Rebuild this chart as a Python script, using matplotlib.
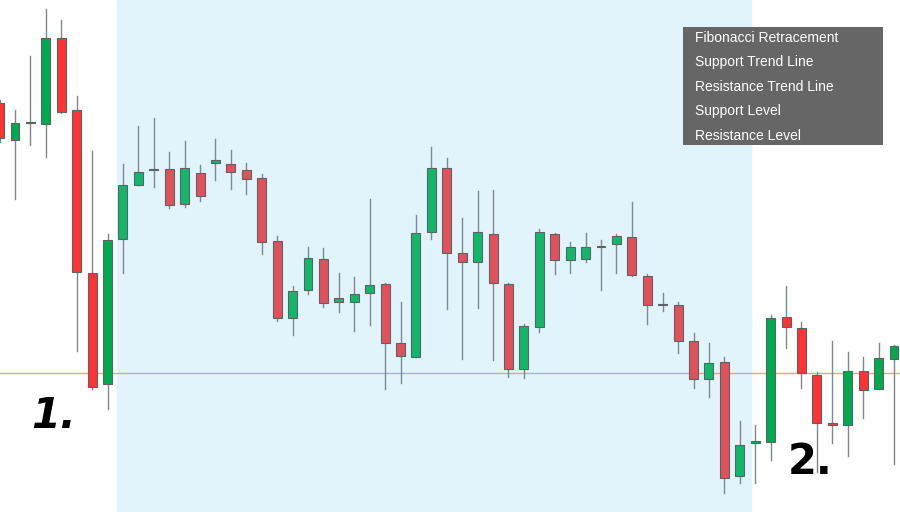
import matplotlib
matplotlib.use("Agg")
import matplotlib.pyplot as plt
from matplotlib.patches import Rectangle

# === candle data (price units, higher = up) ===
opens = [409, 372, 389, 388, 474, 402, 239, 128, 273, 327, 342, 343, 308, 339, 349, 348, 342, 334, 271, 194,
         222, 253, 210, 210, 219, 228, 169, 155, 280, 344, 259, 250, 278, 228, 143, 185, 278, 252, 253, 265,
         268, 275, 236, 207, 207, 171, 133, 150, 36, 69, 70, 195, 184, 137, 89, 87, 141, 123, 153]
closes = [374, 389, 389, 474, 400, 240, 125, 272, 327, 340, 342, 307, 344, 316, 352, 340, 333, 270, 194, 221,
          254, 209, 214, 218, 227, 169, 156, 279, 344, 259, 250, 280, 229, 143, 186, 280, 252, 265, 265, 265,
          276, 237, 207, 207, 171, 133, 149, 34, 67, 71, 194, 185, 139, 89, 87, 141, 122, 154, 166]
highs = [412, 402, 456, 503, 492, 416, 361, 278, 348, 386, 394, 360, 371, 347, 373, 362, 349, 338, 276, 226,
         265, 264, 239, 235, 313, 229, 210, 297, 365, 354, 294, 321, 322, 229, 188, 283, 279, 270, 279, 272,
         278, 310, 238, 219, 210, 179, 169, 155, 91, 87, 197, 226, 190, 140, 171, 160, 155, 169, 167]
lows = [370, 313, 367, 355, 399, 161, 123, 103, 239, 327, 325, 304, 305, 311, 332, 323, 318, 258, 191, 177,
        218, 205, 200, 181, 187, 123, 129, 155, 273, 203, 153, 204, 152, 135, 134, 180, 238, 239, 250, 222,
        239, 236, 188, 201, 159, 124, 115, 19, 29, 29, 52, 164, 124, 40, 69, 56, 94, 123, 48]

# shaded zone covers candles inside this range, muted colours there
zone = (7.61, 48.73)
hline = 139

fig = plt.figure(figsize=(9, 5.12), dpi=100)
ax = fig.add_axes([0, 0, 1, 1])
ax.set_xlim(0.026, 58.39)
ax.set_ylim(0, 512)
ax.axis("off")

ax.axvspan(zone[0], zone[1], color="#e1f4fc", zorder=0)
ax.axhline(hline, color="#e8a384", lw=1, zorder=1)

w = 0.58
for i, (o, c, h, l) in enumerate(zip(opens, closes, highs, lows)):
    inside = zone[0] < i < zone[1]
    if c >= o:
        col = "#12b76a" if inside else "#00aa4f"
    else:
        col = "#e2505a" if inside else "#ff3333"
    ax.plot([i, i], [l, h], color="#7d8890", lw=1, zorder=2)
    body = max(abs(c - o), 1.5)
    ax.add_patch(Rectangle((i - w / 2, min(o, c)), w, body, facecolor=col,
                           edgecolor="#5a6468", lw=0.8, zorder=3))

# legend box
ax.add_patch(Rectangle((0.759, 0.717), 0.222, 0.23, transform=ax.transAxes,
                       facecolor="#666666", edgecolor="none", zorder=5))
items = ["Fibonacci Retracement", "Support Trend Line", "Resistance Trend Line",
         "Support Level", "Resistance Level"]
for k, t in enumerate(items):
    ax.text(0.772, 0.926 - k * 0.0477, t, transform=ax.transAxes, color="white",
            fontsize=10, family="Liberation Sans", va="center", zorder=6)

ax.text(0.035, 0.165, "1.", transform=ax.transAxes, fontsize=30, fontweight="bold",
        style="italic", color="black", zorder=6)
ax.text(0.875, 0.075, "2.", transform=ax.transAxes, fontsize=30, fontweight="bold",
        color="black", zorder=6)

fig.savefig("out.png", dpi=100)
